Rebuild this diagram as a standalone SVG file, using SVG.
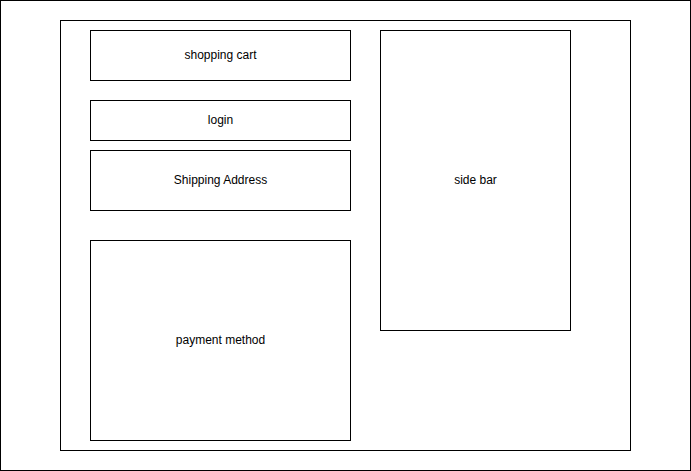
<svg xmlns="http://www.w3.org/2000/svg" width="691" height="471" viewBox="0 0 691 471">
<style>
rect{fill:#fff;stroke:#000;stroke-width:1}
text{font-family:"Liberation Sans",Arial,sans-serif;font-size:12px;fill:#000;text-anchor:middle;dominant-baseline:central}
</style>
<rect x="0" y="0" width="691" height="471" fill="#fff" stroke="none"/>
<g id="page"><rect x="0.5" y="0.5" width="690" height="470"/></g>
<g id="container"><rect x="60.5" y="20.5" width="570" height="430"/></g>
<g id="shopping-cart"><rect x="90.5" y="30.5" width="260" height="50"/><text x="220.5" y="54.5">shopping cart</text></g>
<g id="login"><rect x="90.5" y="100.5" width="260" height="40"/><text x="220.5" y="119.5">login</text></g>
<g id="shipping-address"><rect x="90.5" y="150.5" width="260" height="60"/><text x="220.5" y="179.5">Shipping Address</text></g>
<g id="payment-method"><rect x="90.5" y="240.5" width="260" height="200"/><text x="220.5" y="339.5">payment method</text></g>
<g id="side-bar"><rect x="380.5" y="30.5" width="190" height="300"/><text x="475.5" y="179.5">side bar</text></g>
<g id="connectors"></g>
</svg>
